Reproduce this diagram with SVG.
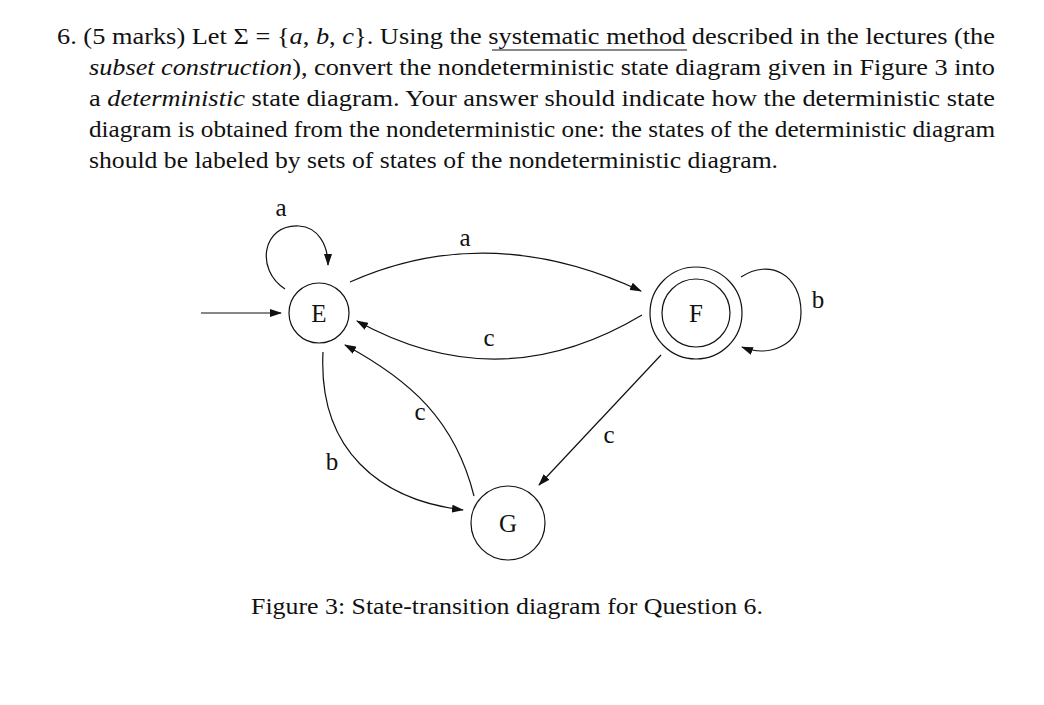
<svg xmlns="http://www.w3.org/2000/svg" width="1044" height="705" viewBox="0 0 1044 705">
<style>
text{font-family:"Liberation Serif","DejaVu Serif",serif;fill:#111}
.p{font-size:23px}
.l{font-size:25px;text-anchor:middle}
.s{fill:none;stroke:#111;stroke-width:1.2}
.e{fill:none;stroke:#111;stroke-width:1.2;marker-end:url(#ah)}
</style>
<defs><marker id="ah" markerWidth="12" markerHeight="8" refX="11" refY="4" orient="auto" markerUnits="userSpaceOnUse"><path d="M0,0 L12,4 L0,8 z" fill="#111"/></marker></defs>
<rect width="1044" height="705" fill="#fff"/>
<g id="question">
<text class="p" x="57" y="44" textLength="938" lengthAdjust="spacingAndGlyphs">6.  (5 marks) Let Σ = {<tspan font-style="italic">a</tspan>, <tspan font-style="italic">b</tspan>, <tspan font-style="italic">c</tspan>}. Using the systematic method described in the lectures (the</text>
<line x1="492" y1="50" x2="687" y2="50" class="s"/>
<text class="p" x="89" y="75" textLength="906" lengthAdjust="spacingAndGlyphs"><tspan font-style="italic">subset construction</tspan>), convert the nondeterministic state diagram given in Figure 3 into</text>
<text class="p" x="89" y="106" textLength="906" lengthAdjust="spacingAndGlyphs">a <tspan font-style="italic">deterministic</tspan> state diagram. Your answer should indicate how the deterministic state</text>
<text class="p" x="89" y="137" textLength="906" lengthAdjust="spacingAndGlyphs">diagram is obtained from the nondeterministic one: the states of the deterministic diagram</text>
<text class="p" x="89" y="168" textLength="689" lengthAdjust="spacingAndGlyphs">should be labeled by sets of states of the nondeterministic diagram.</text>
</g>
<g id="E"><circle cx="319" cy="313" r="30" class="s"/><text class="l" x="319" y="322">E</text></g>
<g id="F"><circle cx="696" cy="313" r="46" class="s"/><circle cx="696" cy="313" r="34" class="s"/><text class="l" x="696" y="322">F</text></g>
<g id="G"><circle cx="508" cy="523" r="37" class="s"/><text class="l" x="508" y="532">G</text></g>
<g id="connectors">
<line x1="201" y1="313" x2="281" y2="313" class="e"/>
<path d="M285,289 C255,270 262,224 299,226 C318,227 328,245 328,265" class="e"/>
<path d="M350,282 Q489,220 641,291" class="e"/>
<path d="M642,315 Q500,400 357,321" class="e"/>
<path d="M741,277 C770,258 801,275 801,312 C801,345 770,358 742,347" class="e"/>
<line x1="661" y1="355" x2="539" y2="485" class="e"/>
<path d="M323,352 C318,450 380,500 463,510" class="e"/>
<path d="M474,496 C455,420 410,380 345,345" class="e"/>
</g>
<g id="labels">
<text class="l" x="281" y="216">a</text>
<text class="l" x="465" y="246">a</text>
<text class="l" x="489" y="346">c</text>
<text class="l" x="818" y="308">b</text>
<text class="l" x="420" y="420">c</text>
<text class="l" x="609" y="443">c</text>
<text class="l" x="332" y="470">b</text>
</g>
<text class="p" x="251" y="614" textLength="512" lengthAdjust="spacingAndGlyphs">Figure 3: State-transition diagram for Question 6.</text>
</svg>
